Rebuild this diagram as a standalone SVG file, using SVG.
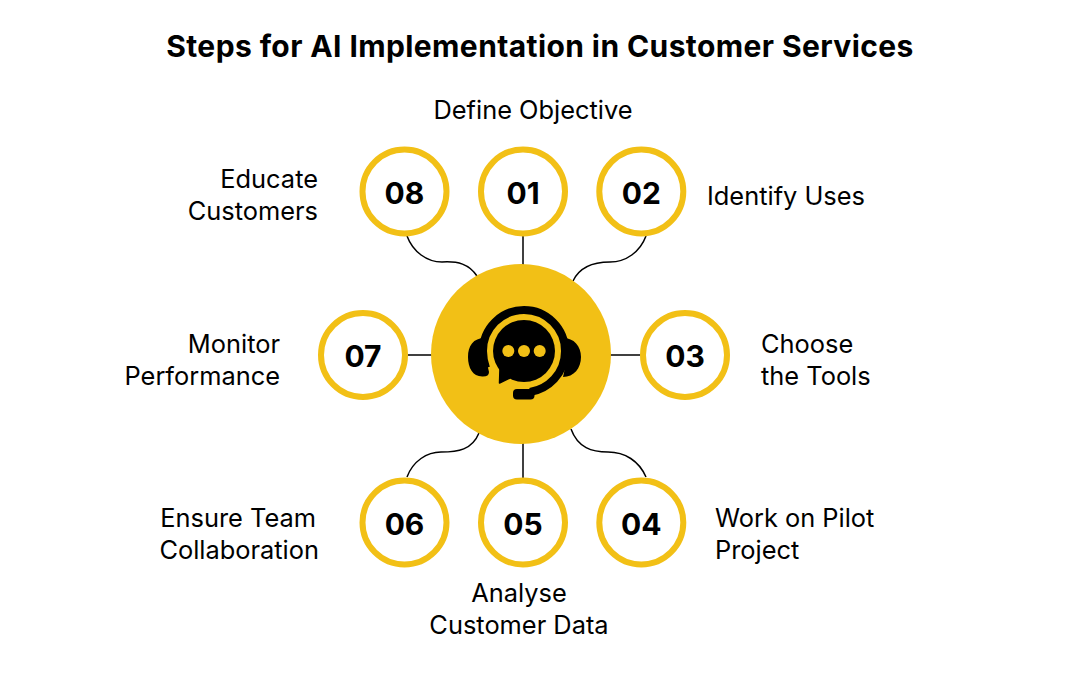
<svg xmlns="http://www.w3.org/2000/svg" width="1080" height="682" viewBox="0 0 1080 682">
<style>
.lbl{font-family:"Inter","Liberation Sans",sans-serif;font-size:25.400px;fill:#000}
.num{font-family:"Inter","Liberation Sans",sans-serif;font-weight:700;font-size:30px;fill:#000;text-anchor:middle}
.ring{fill:#fff;stroke:#f2c016;stroke-width:6}
.conn{fill:none;stroke:#000;stroke-width:1.500}
.m{text-anchor:middle}
</style>
<rect width="1080" height="682" fill="#fff"/>
<text id="title" x="540" y="57" text-anchor="middle" style="font-family:'Inter','Liberation Sans',sans-serif;font-weight:700;font-size:30px;letter-spacing:.4px;fill:#000">Steps for AI Implementation in Customer Services</text>
<g id="connectors">
<path class="conn" d="M523 236V270"/><path class="conn" d="M523 438V478"/>
<path class="conn" d="M408 355H436"/><path class="conn" d="M606 355H640"/>
<path class="conn" d="M407 236C413 252 427 262 442 262C458 261 469 264 477 276"/>
<path class="conn" d="M646 236C640 252 626 262 610 262C594 262 580 266 573 281"/>
<path class="conn" d="M407 477C413 461 427 452 441 452C458 452 472 450 479 433"/>
<path class="conn" d="M646 477C639 461 625 452 608 452C592 452 578 448 571 429"/>
</g>
<g id="hub">
<circle cx="521" cy="354" r="90" fill="#f2c016"/>
<g id="icon">
<path d="M468 357C468 346 473 338 485 338C486 350 486 360 489 372C489 375 487 376.500 483 376.500C473 377 468 368 468 357Z"/>
<path d="M563 338C574 338 581 346 581 357C581 368 574 377 563 377C566 366 566 350 563 338Z"/>
<path d="M486 368C484 362 483 356 483 351A41 41 0 0 1 565 351C565 374 548 389 530 392" fill="none" stroke="#000" stroke-width="8"/>
<rect x="513" y="389" width="21.500" height="10.500" rx="4"/>
<circle cx="524" cy="351" r="31"/>
<path d="M500 368L499.500 383L510 378Z" stroke="#000" stroke-width="1.500" stroke-linejoin="round"/>
<circle cx="508.300" cy="351" r="6" fill="#f2c016"/><circle cx="524" cy="351" r="6" fill="#f2c016"/><circle cx="539.700" cy="351" r="6" fill="#f2c016"/>
</g>
</g>
<g id="n01"><circle class="ring" cx="523" cy="191.500" r="42"/><text class="num" x="523" y="204">01</text><text class="lbl m" x="533" y="119">Define Objective</text></g>
<g id="n02"><circle class="ring" cx="641.300" cy="191.500" r="42"/><text class="num" x="641.300" y="204">02</text><text class="lbl" x="707" y="205">Identify Uses</text></g>
<g id="n03"><circle class="ring" cx="685" cy="355" r="42"/><text class="num" x="685" y="367">03</text><text class="lbl" x="761" y="353">Choose</text><text class="lbl" x="761" y="385">the Tools</text></g>
<g id="n04"><circle class="ring" cx="641.300" cy="522.500" r="42"/><text class="num" x="641.300" y="535">04</text><text class="lbl" x="715" y="527">Work on Pilot</text><text class="lbl" x="715" y="559">Project</text></g>
<g id="n05"><circle class="ring" cx="523" cy="522.500" r="42"/><text class="num" x="523" y="535">05</text><text class="lbl m" x="519" y="602">Analyse</text><text class="lbl m" x="519" y="634">Customer Data</text></g>
<g id="n06"><circle class="ring" cx="404.500" cy="522.500" r="42"/><text class="num" x="404.500" y="535">06</text><text class="lbl" x="316" y="527" text-anchor="end">Ensure Team</text><text class="lbl" x="319" y="559" text-anchor="end">Collaboration</text></g>
<g id="n07"><circle class="ring" cx="363" cy="355" r="42"/><text class="num" x="363" y="367">07</text><text class="lbl" x="280" y="353" text-anchor="end">Monitor</text><text class="lbl" x="280" y="385" text-anchor="end">Performance</text></g>
<g id="n08"><circle class="ring" cx="404.500" cy="191.500" r="42"/><text class="num" x="404.500" y="204">08</text><text class="lbl" x="318" y="188" text-anchor="end">Educate</text><text class="lbl" x="318" y="220" text-anchor="end">Customers</text></g>
</svg>
